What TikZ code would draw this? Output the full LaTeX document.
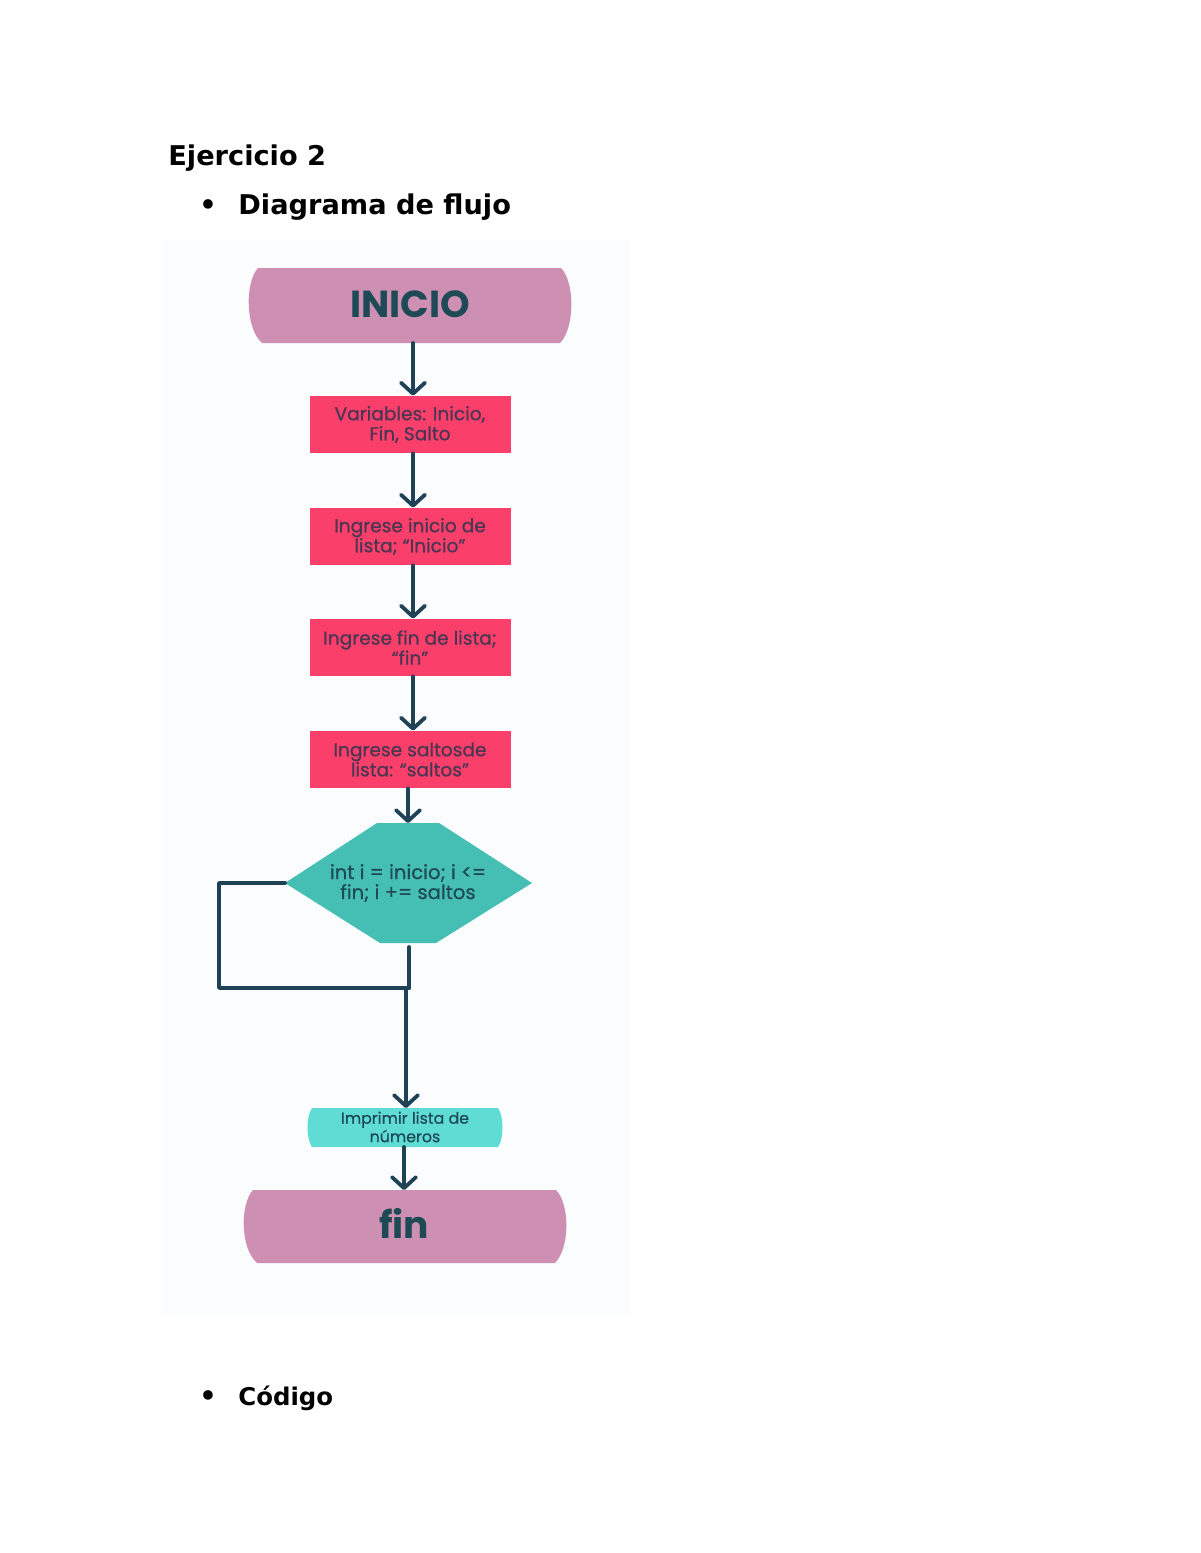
\documentclass[tikz,border=0pt]{standalone}
\usepackage{fontspec}
\setmainfont{DejaVu Sans}
\newfontfamily\pop{Poppins}
\newfontfamily\popm[FakeBold=0.7]{Poppins}
\usetikzlibrary{arrows.meta}
\definecolor{bgc}{HTML}{FAFCFD}
\definecolor{termc}{HTML}{CE90B2}
\definecolor{boxc}{HTML}{F93F6A}
\definecolor{hexc}{HTML}{45BFB3}
\definecolor{outc}{HTML}{5FDDD5}
\definecolor{linec}{HTML}{1F4256}
\definecolor{boxtxt}{HTML}{4A3552}
\definecolor{hextxt}{HTML}{1E4A55}
\tikzset{
  conn/.style={draw=linec, line width=1.9pt, line cap=round, line join=round},
  arr/.style={conn, -{Straight Barb[length=5.5pt,width=12pt,line width=1.9pt,round]}},
  procbox/.style={rectangle, fill=boxc, minimum width=100.5pt, minimum height=28.5pt, inner sep=0pt,
    align=center, text=boxtxt, font=\popm\fontsize{9.3pt}{10pt}\selectfont},
  termtxt/.style={inner sep=0pt, text=hextxt, font=\pop\bfseries\fontsize{18.8pt}{20pt}\selectfont},
  hextext/.style={inner sep=0pt, align=center, text=hextxt, font=\popm\fontsize{9.8pt}{10pt}\selectfont},
  outtxt/.style={inner sep=0pt, align=center, text=hextxt, font=\popm\fontsize{7.9pt}{8pt}\selectfont},
  heading/.style={anchor=base west, inner sep=0pt, font=\bfseries\fontsize{13.6pt}{16pt}\selectfont},
}
\begin{document}
\begin{tikzpicture}[x=0.5pt,y=-0.5pt]
\useasboundingbox (0,0) rectangle (1200,1553);
\fill[white] (0,0) rectangle (1200,1553);
% image background
\fill[bgc] (163,240) rectangle (630,1315);
% headings
\node[heading] (h1) at (168,165) {Ejercicio 2};
\node[heading] (b1) at (199,214) {•};
\node[heading] (h2) at (238,214) {Diagrama de flujo};
\node[heading] (b2) at (199,1405) {•};
\node[heading, font=\bfseries\fontsize{12.2pt}{16pt}\selectfont] (h3) at (238,1405) {Código};
% INICIO terminator
\fill[termc] (258,268) -- (561,268) .. controls (575,282) and (575,328) .. (560,343)
  -- (262,343) .. controls (245,328) and (245,282) .. (258,268) -- cycle;
\node[termtxt] (inicio) at (410,304) {INICIO};
\coordinate (inicioB) at (413,343);
% process boxes
\node[procbox] (v) at (410,424.5) {Variables: Inicio,\\Fin, Salto};
\node[procbox] (a) at (410,536.5) {Ingrese inicio de\\lista; “Inicio”};
\node[procbox] (b) at (410,647.5) {Ingrese fin de lista;\\“fin”};
\node[procbox] (c) at (410,759.5) {Ingrese saltosde\\lista: “saltos”};
% hexagon
\fill[hexc] (377,823) -- (439,823) -- (532,883) -- (436,943) -- (380,943) -- (285,883) -- cycle;
\node[hextext] (hx) at (408,883) {int i = inicio; i <=\\fin; i += saltos};
\coordinate (hxL) at (285,883);
\coordinate (hxB) at (409,947);
\coordinate (lp1) at (219,883);
\coordinate (lp2) at (219,988);
\coordinate (j) at (409,988);
\coordinate (jd) at (406,988);
% output
\fill[outc] (312,1108) -- (498,1108) .. controls (504,1116) and (504,1139) .. (498,1147)
  -- (312,1147) .. controls (306,1139) and (306,1116) .. (312,1108) -- cycle;
\node[outtxt] (out) at (405,1127) {Imprimir lista de\\números};
% fin terminator
\fill[termc] (253,1190) -- (556,1190) .. controls (570,1204) and (570,1248) .. (555,1263)
  -- (257,1263) .. controls (240,1248) and (240,1204) .. (253,1190) -- cycle;
\node[termtxt] (fin) at (404,1223) {fin};
% connectors
\draw[arr] (inicioB) -- (v.north -| inicioB);
\draw[arr] (v.south -| inicioB) -- (a.north -| inicioB);
\draw[arr] (a.south -| inicioB) -- (b.north -| inicioB);
\draw[arr] (b.south -| inicioB) -- (c.north -| inicioB);
\draw[arr] (c.south -| hx) -- (408,823);
\draw[conn] (hxL) -- (lp1) -- (lp2) -- (j);
\draw[conn] (hxB) -- (j);
\draw[arr] (jd) -- (406,1108);
\draw[arr] (404,1147) -- (404,1190);
\end{tikzpicture}
\end{document}
